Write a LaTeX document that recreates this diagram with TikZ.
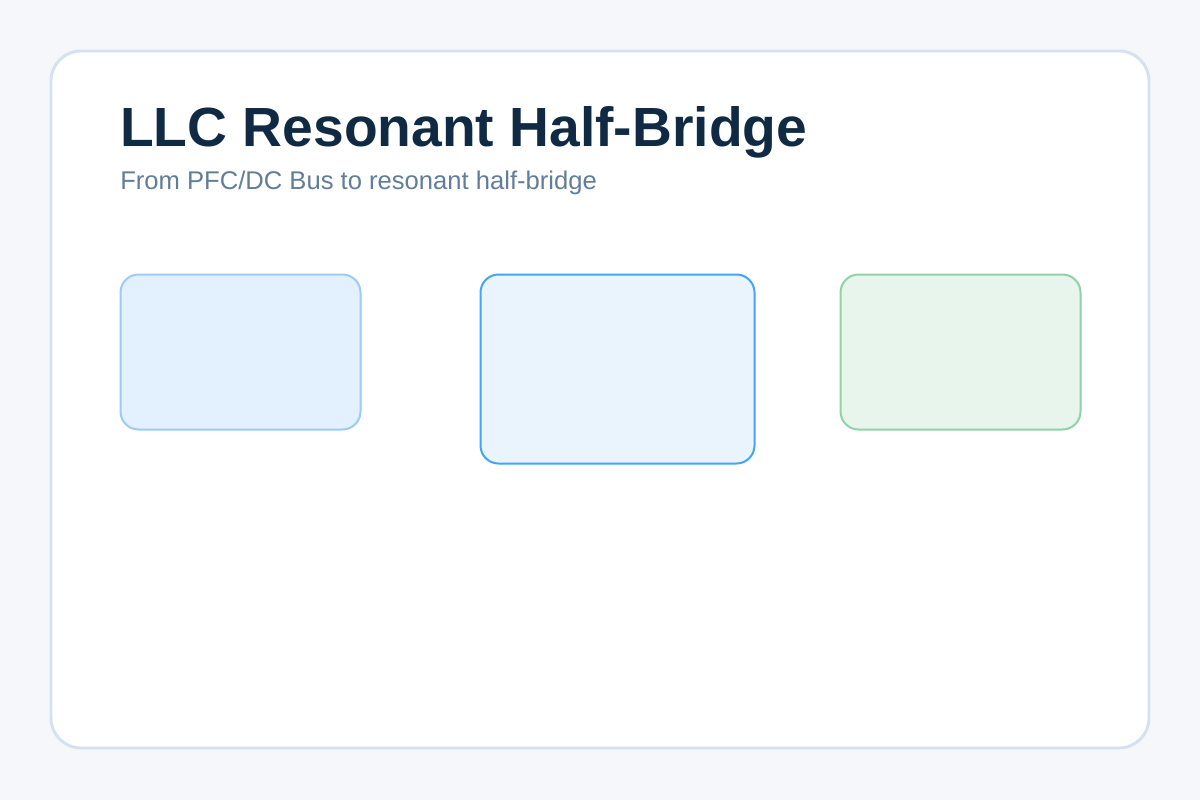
\documentclass[tikz,border=0pt]{standalone}
\usepackage{fontspec}
\setmainfont{Liberation Sans}
\definecolor{pagebg}{HTML}{F5F7FA}
\definecolor{cardedge}{HTML}{D5E1EF}
\definecolor{titleink}{HTML}{102A43}
\definecolor{subink}{HTML}{627D98}
\definecolor{busfill}{HTML}{E3F0FD}
\definecolor{busedge}{HTML}{9DCBF8}
\definecolor{bridgefill}{HTML}{E9F4FD}
\definecolor{bridgeedge}{HTML}{42A5F5}
\definecolor{outfill}{HTML}{E7F5EC}
\definecolor{outedge}{HTML}{8FD3A9}
\tikzset{
  stagebox/.style={draw, line width=1.5pt, rounded corners=13.5pt, inner sep=0pt, anchor=north west}
}
\begin{document}
\begin{tikzpicture}[x=0.75pt, y=-0.75pt]
            \useasboundingbox (0,0) rectangle (1200,800);
            \fill[pagebg] (0,0) rectangle (1200,800);

            \filldraw[fill=white, draw=cardedge, line width=2.2pt, rounded corners=22.5pt] (51,51) rectangle (1149,748);

            \node[anchor=base west, inner sep=0pt, text=titleink, font=\fontsize{41.4}{48}\selectfont\bfseries] (title) at (120,146.5) {LLC Resonant Half-Bridge};
            \node[anchor=base west, inner sep=0pt, text=subink, font=\fontsize{19.2}{22}\selectfont] (subtitle) at (120,189) {From PFC/DC Bus to resonant half-bridge};

            \node[stagebox, fill=busfill, draw=busedge, minimum width=180pt, minimum height=116.25pt] (bus) at (119.5,273.5) {};
            \node[stagebox, fill=bridgefill, draw=bridgeedge, minimum width=205.5pt, minimum height=141.75pt] (bridge) at (479.5,273.5) {};
            \node[stagebox, fill=outfill, draw=outedge, minimum width=180pt, minimum height=116.25pt] (output) at (839.5,273.5) {};
        \end{tikzpicture}
\end{document}
